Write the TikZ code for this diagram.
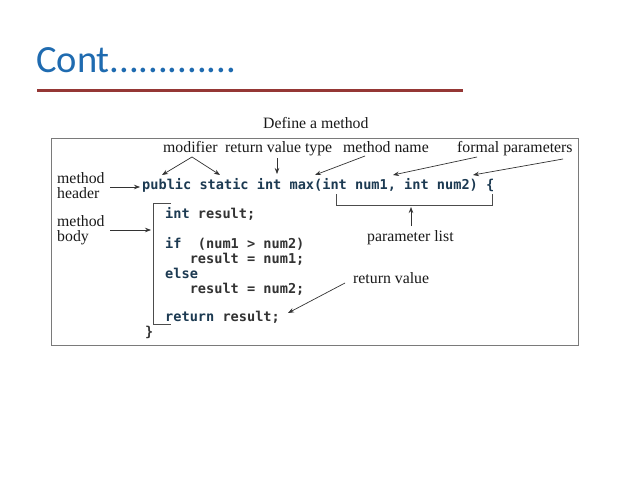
\documentclass[tikz,border=0pt]{standalone}
\usepackage{fontspec}
\setmainfont{Liberation Serif}
\newfontfamily\codefont{DejaVu Sans Mono}
\newfontfamily\titlefont{Carlito}
\usetikzlibrary{arrows.meta}
\definecolor{titleblue}{HTML}{1F6BB0}
\definecolor{rulered}{HTML}{953735}
\definecolor{kw}{HTML}{1C3A52}
\definecolor{codegrey}{HTML}{333333}
\definecolor{boxgrey}{HTML}{7A7A7A}
\begin{document}
\begin{tikzpicture}[x=1pt,y=-1pt,
  lbl/.style={inner sep=0pt, anchor=base west, font=\fontsize{15.8}{13}\selectfont, text=black!90},
  code/.style={inner sep=0pt, anchor=base west, font=\codefont\bfseries\fontsize{13.6}{15}\selectfont, text=codegrey},
  arr/.style={-{Stealth[length=6pt,width=4.5pt]}, line width=0.7pt, draw=black!80},
  brk/.style={line width=0.9pt, draw=black!70}]
\useasboundingbox[fill=white] (0,0) rectangle (638,479);
% title
\node[inner sep=0pt, anchor=base west, font=\titlefont\fontsize{38.5}{40}\selectfont, text=titleblue] (title) at (36,72) {Cont.............};
\coordinate (rl) at (37,90);
\coordinate (rr) at (463,90);
\draw[rulered, line width=3pt] (rl) -- (rr);
% frame
\node[draw=boxgrey, line width=1.2pt, inner sep=0pt, minimum width=527pt, minimum height=207pt, anchor=north west] (box) at (51,138) {};
% labels
\node[lbl] (define) at (263,128) {Define a method};
\node[lbl] (modifier) at (163,152) {modifier};
\node[lbl] (rvt) at (225,152) {return value type};
\node[lbl] (mname) at (343,152) {method name};
\node[lbl] (fparams) at (457,152) {formal parameters};
\node[lbl] (mh1) at (57,183) {method};
\node[lbl] (mh2) at (57,198) {header};
\node[lbl] (mb1) at (57,226) {method};
\node[lbl] (mb2) at (57,241) {body};
\node[lbl] (plist) at (367,241) {parameter list};
\node[lbl] (rv) at (353,283) {return value};
% code
\node[code, text=kw] (hdr) at (142,189) {public static int max(int num1, int num2) \{};
\node[code] (c1) at (165,218) {\textcolor{kw}{int} result;};
\node[code] (c2) at (165,248) {\textcolor{kw}{if}~~(num1 > num2)};
\node[code] (c3) at (165,263) {\phantom{xxx}result = num1;};
\node[code] (c4) at (165,278) {\textcolor{kw}{else}};
\node[code] (c5) at (165,293) {\phantom{xxx}result = num2;};
\node[code] (c6) at (165,321) {\textcolor{kw}{return} result;};
\node[code] (c7) at (145,336) {\}};
% arrow coordinates
\coordinate (modapex) at (192,157);
\coordinate (tpublic) at (162,175);
\coordinate (tstatic) at (220,175);
\coordinate (rvts) at (277,158);
\coordinate (tint) at (277,174);
\coordinate (mns) at (365,156);
\coordinate (tmax) at (315,175);
\coordinate (fp1s) at (477,157);
\coordinate (tnum1) at (393,175);
\coordinate (fp2s) at (563,159);
\coordinate (tnum2) at (473,175);
\coordinate (mhs) at (110,187);
\coordinate (mht) at (140,187);
\coordinate (mbs) at (110,230);
\coordinate (mbt) at (151,230);
\coordinate (pls) at (411,226);
\coordinate (plt) at (411,207);
\coordinate (rvs) at (345,283);
\coordinate (rvt2) at (288,313);
% arrows
\draw[arr] (modapex) -- (tpublic);
\draw[arr] (modapex) -- (tstatic);
\draw[arr] (rvts) -- (tint);
\draw[arr] (mns) -- (tmax);
\draw[arr] (fp1s) -- (tnum1);
\draw[arr] (fp2s) -- (tnum2);
\draw[arr] (mhs) -- (mht);
\draw[arr] (mbs) -- (mbt);
\draw[arr] (pls) -- (plt);
\draw[arr] (rvs) -- (rvt2);
% brackets
\coordinate (bt1) at (171,203);
\coordinate (bt2) at (153,203);
\coordinate (bb1) at (153,324);
\coordinate (bb2) at (171,324);
\draw[brk] (bt1) -- (bt2) -- (bb1) -- (bb2);
\coordinate (p1) at (336,194);
\coordinate (p2) at (336,205);
\coordinate (p3) at (492,205);
\coordinate (p4) at (492,194);
\draw[brk] (p1) -- (p2) -- (p3) -- (p4);
\end{tikzpicture}
\end{document}
